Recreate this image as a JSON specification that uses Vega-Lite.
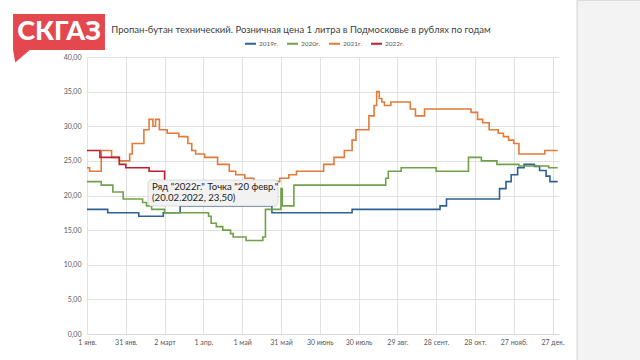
{
  "$schema": "https://vega.github.io/schema/vega-lite/v6.json",
  "autosize": "none",
  "width": 472,
  "height": 277,
  "padding": {"left": 87, "top": 57, "right": 81, "bottom": 26},
  "background": "white",
  "title": {
    "text": "Пропан-бутан технический. Розничная цена 1 литра в Подмосковье в рублях по годам",
    "font": "Lato",
    "fontSize": 9.5,
    "fontWeight": "normal",
    "color": "#404040",
    "anchor": "middle",
    "frame": "group",
    "orient": "top",
    "baseline": "middle",
    "offset": 0,
    "dx": -22,
    "dy": 40
  },
  "config": {
    "view": {"stroke": null},
    "axis": {"labelFont": "Lato", "labelFontSize": 7, "labelColor": "#595959", "grid": true, "gridColor": "#D9D9D9", "gridWidth": 0.8, "domain": false, "ticks": false, "title": null, "labelOverlap": false},
    "legend": {"labelFont": "Lato", "labelFontSize": 6.5, "labelColor": "#595959"}
  },
  "datasets": {
    "one": [{}],
    "prices": [
      {"series": "2019г.", "day": 0, "price": 18.0},
      {"series": "2019г.", "day": 16, "price": 17.5},
      {"series": "2019г.", "day": 40, "price": 17.0},
      {"series": "2019г.", "day": 59, "price": 17.5},
      {"series": "2019г.", "day": 72, "price": 18.5},
      {"series": "2019г.", "day": 143, "price": 17.5},
      {"series": "2019г.", "day": 205, "price": 18.0},
      {"series": "2019г.", "day": 273, "price": 18.5},
      {"series": "2019г.", "day": 278, "price": 19.5},
      {"series": "2019г.", "day": 319, "price": 21.0},
      {"series": "2019г.", "day": 324, "price": 22.0},
      {"series": "2019г.", "day": 328, "price": 23.0},
      {"series": "2019г.", "day": 333, "price": 24.0},
      {"series": "2019г.", "day": 338, "price": 24.5},
      {"series": "2019г.", "day": 346, "price": 24.2},
      {"series": "2019г.", "day": 350, "price": 23.6},
      {"series": "2019г.", "day": 355, "price": 22.8},
      {"series": "2019г.", "day": 358, "price": 22.0},
      {"series": "2019г.", "day": 364, "price": 22.0},

      {"series": "2020г.", "day": 0, "price": 22.0},
      {"series": "2020г.", "day": 11, "price": 21.5},
      {"series": "2020г.", "day": 20, "price": 20.5},
      {"series": "2020г.", "day": 28, "price": 19.5},
      {"series": "2020г.", "day": 43, "price": 19.0},
      {"series": "2020г.", "day": 46, "price": 18.5},
      {"series": "2020г.", "day": 50, "price": 18.0},
      {"series": "2020г.", "day": 60, "price": 17.5},
      {"series": "2020г.", "day": 94, "price": 17.0},
      {"series": "2020г.", "day": 96, "price": 16.0},
      {"series": "2020г.", "day": 100, "price": 15.5},
      {"series": "2020г.", "day": 105, "price": 15.0},
      {"series": "2020г.", "day": 111, "price": 14.5},
      {"series": "2020г.", "day": 113, "price": 14.0},
      {"series": "2020г.", "day": 123, "price": 13.5},
      {"series": "2020г.", "day": 136, "price": 14.0},
      {"series": "2020г.", "day": 138, "price": 18.0},
      {"series": "2020г.", "day": 150, "price": 21.0},
      {"series": "2020г.", "day": 151, "price": 18.5},
      {"series": "2020г.", "day": 160, "price": 21.5},
      {"series": "2020г.", "day": 231, "price": 22.5},
      {"series": "2020г.", "day": 233, "price": 23.5},
      {"series": "2020г.", "day": 243, "price": 24.0},
      {"series": "2020г.", "day": 270, "price": 23.5},
      {"series": "2020г.", "day": 295, "price": 25.5},
      {"series": "2020г.", "day": 305, "price": 25.0},
      {"series": "2020г.", "day": 317, "price": 24.5},
      {"series": "2020г.", "day": 334, "price": 24.25},
      {"series": "2020г.", "day": 357, "price": 24.0},
      {"series": "2020г.", "day": 364, "price": 24.0},

      {"series": "2021г.", "day": 0, "price": 24.0},
      {"series": "2021г.", "day": 2, "price": 23.5},
      {"series": "2021г.", "day": 11, "price": 26.5},
      {"series": "2021г.", "day": 19, "price": 25.5},
      {"series": "2021г.", "day": 25, "price": 25.0},
      {"series": "2021г.", "day": 33, "price": 26.0},
      {"series": "2021г.", "day": 35, "price": 27.5},
      {"series": "2021г.", "day": 44, "price": 29.5},
      {"series": "2021г.", "day": 48, "price": 31.0},
      {"series": "2021г.", "day": 51, "price": 30.0},
      {"series": "2021г.", "day": 53, "price": 31.0},
      {"series": "2021г.", "day": 56, "price": 29.5},
      {"series": "2021г.", "day": 62, "price": 29.0},
      {"series": "2021г.", "day": 71, "price": 28.5},
      {"series": "2021г.", "day": 78, "price": 27.5},
      {"series": "2021г.", "day": 81, "price": 26.5},
      {"series": "2021г.", "day": 84, "price": 26.0},
      {"series": "2021г.", "day": 91, "price": 25.5},
      {"series": "2021г.", "day": 101, "price": 24.5},
      {"series": "2021г.", "day": 110, "price": 23.5},
      {"series": "2021г.", "day": 115, "price": 23.0},
      {"series": "2021г.", "day": 122, "price": 22.5},
      {"series": "2021г.", "day": 129, "price": 22.0},
      {"series": "2021г.", "day": 149, "price": 22.5},
      {"series": "2021г.", "day": 156, "price": 23.0},
      {"series": "2021г.", "day": 162, "price": 23.5},
      {"series": "2021г.", "day": 183, "price": 24.5},
      {"series": "2021г.", "day": 191, "price": 25.5},
      {"series": "2021г.", "day": 199, "price": 26.5},
      {"series": "2021г.", "day": 205, "price": 28.0},
      {"series": "2021г.", "day": 208, "price": 29.5},
      {"series": "2021г.", "day": 218, "price": 31.5},
      {"series": "2021г.", "day": 222, "price": 33.0},
      {"series": "2021г.", "day": 224, "price": 35.0},
      {"series": "2021г.", "day": 226, "price": 34.0},
      {"series": "2021г.", "day": 228, "price": 33.5},
      {"series": "2021г.", "day": 230, "price": 33.0},
      {"series": "2021г.", "day": 235, "price": 33.5},
      {"series": "2021г.", "day": 250, "price": 32.5},
      {"series": "2021г.", "day": 254, "price": 31.5},
      {"series": "2021г.", "day": 261, "price": 32.5},
      {"series": "2021г.", "day": 297, "price": 32.0},
      {"series": "2021г.", "day": 302, "price": 31.0},
      {"series": "2021г.", "day": 306, "price": 30.5},
      {"series": "2021г.", "day": 311, "price": 29.5},
      {"series": "2021г.", "day": 318, "price": 29.0},
      {"series": "2021г.", "day": 322, "price": 28.5},
      {"series": "2021г.", "day": 326, "price": 28.0},
      {"series": "2021г.", "day": 330, "price": 27.5},
      {"series": "2021г.", "day": 334, "price": 26.0},
      {"series": "2021г.", "day": 354, "price": 26.5},
      {"series": "2021г.", "day": 364, "price": 26.5},

      {"series": "2022г.", "day": 0, "price": 26.5},
      {"series": "2022г.", "day": 10, "price": 25.5},
      {"series": "2022г.", "day": 25, "price": 24.5},
      {"series": "2022г.", "day": 30, "price": 24.0},
      {"series": "2022г.", "day": 48, "price": 23.5},
      {"series": "2022г.", "day": 60, "price": 22.0}
    ]
  },
  "layer": [
    {
      "data": {"name": "one"},
      "mark": {"type": "rect", "color": "#F3F3F3", "stroke": "#D0D0D0", "strokeWidth": 1},
      "encoding": {
        "x": {"datum": 379, "type": "quantitative",
          "scale": {"domain": [0, 365], "nice": false, "zero": false},
          "axis": {"values": [0, 30, 60, 90, 120, 150, 180, 210, 240, 270, 300, 330, 360], "labelExpr": "['1 янв.','31 янв.','2 март','1 апр.','1 май','31 май','30 июнь','30 июль','29 авг.','28 сент.','28 окт.','27 нояб.','27 дек.'][datum.value/30]", "domain": true, "domainColor": "#D9D9D9", "labelPadding": 4, "labelFlush": false, "grid": true, "labelOverlap": false}},
        "x2": {"datum": 440},
        "y": {"datum": 48.2, "type": "quantitative",
          "scale": {"domain": [0, 40], "nice": false, "zero": false},
          "axis": {"values": [0, 5, 10, 15, 20, 25, 30, 35, 40], "labelExpr": "replace(format(datum.value, '.2f'), '.', ',')", "labelPadding": 6, "grid": true, "labelOverlap": false}},
        "y2": {"datum": -6}
      }
    },
    {
      "data": {"name": "prices"},
      "mark": {"type": "line", "interpolate": "step-after", "strokeWidth": 1.6},
      "encoding": {
        "x": {"field": "day", "type": "quantitative",
          "scale": {"domain": [0, 365], "nice": false, "zero": false},
          "axis": {"values": [0, 30, 60, 90, 120, 150, 180, 210, 240, 270, 300, 330, 360], "labelExpr": "['1 янв.','31 янв.','2 март','1 апр.','1 май','31 май','30 июнь','30 июль','29 авг.','28 сент.','28 окт.','27 нояб.','27 дек.'][datum.value/30]", "domain": true, "domainColor": "#D9D9D9", "labelPadding": 4, "labelFlush": false, "grid": true, "labelOverlap": false}},
        "y": {"field": "price", "type": "quantitative",
          "scale": {"domain": [0, 40], "nice": false, "zero": false},
          "axis": {"values": [0, 5, 10, 15, 20, 25, 30, 35, 40], "labelExpr": "replace(format(datum.value, '.2f'), '.', ',')", "labelPadding": 6, "grid": true, "labelOverlap": false}},
        "color": {
          "field": "series", "type": "nominal",
          "scale": {"domain": ["2019г.", "2020г.", "2021г.", "2022г."], "range": ["#2F6095", "#6FA04A", "#E07B39", "#BE1E2D"]},
          "legend": {
            "title": null, "orient": "none", "legendX": 157, "legendY": -20,
            "direction": "horizontal", "symbolType": "stroke", "symbolStrokeWidth": 2,
            "symbolSize": 120, "labelOffset": 2, "columnPadding": 5
          }
        }
      }
    },
    {
      "data": {"name": "one"},
      "mark": {"type": "rect", "color": "#E5474F"},
      "encoding": {
        "x": {"datum": -57.2, "type": "quantitative",
          "scale": {"domain": [0, 365], "nice": false, "zero": false},
          "axis": {"values": [0, 30, 60, 90, 120, 150, 180, 210, 240, 270, 300, 330, 360], "labelExpr": "['1 янв.','31 янв.','2 март','1 апр.','1 май','31 май','30 июнь','30 июль','29 авг.','28 сент.','28 окт.','27 нояб.','27 дек.'][datum.value/30]", "domain": true, "domainColor": "#D9D9D9", "labelPadding": 4, "labelFlush": false, "grid": true, "labelOverlap": false}},
        "x2": {"datum": 13.9},
        "y": {"datum": 46.2, "type": "quantitative",
          "scale": {"domain": [0, 40], "nice": false, "zero": false},
          "axis": {"values": [0, 5, 10, 15, 20, 25, 30, 35, 40], "labelExpr": "replace(format(datum.value, '.2f'), '.', ',')", "labelPadding": 6, "grid": true, "labelOverlap": false}},
        "y2": {"datum": 41.0}
      }
    },
    {
      "data": {"name": "one"},
      "mark": {"type": "point", "shape": "M-1,-0.75 L1,-0.75 L-0.75,0.75 Z", "filled": true, "opacity": 1, "color": "#E5474F", "size": 289},
      "encoding": {
        "x": {"datum": -50.6, "type": "quantitative",
          "scale": {"domain": [0, 365], "nice": false, "zero": false},
          "axis": {"values": [0, 30, 60, 90, 120, 150, 180, 210, 240, 270, 300, 330, 360], "labelExpr": "['1 янв.','31 янв.','2 март','1 апр.','1 май','31 май','30 июнь','30 июль','29 авг.','28 сент.','28 окт.','27 нояб.','27 дек.'][datum.value/30]", "domain": true, "domainColor": "#D9D9D9", "labelPadding": 4, "labelFlush": false, "grid": true, "labelOverlap": false}},
        "y": {"datum": 40.14, "type": "quantitative",
          "scale": {"domain": [0, 40], "nice": false, "zero": false},
          "axis": {"values": [0, 5, 10, 15, 20, 25, 30, 35, 40], "labelExpr": "replace(format(datum.value, '.2f'), '.', ',')", "labelPadding": 6, "grid": true, "labelOverlap": false}}
      }
    },
    {
      "data": {"name": "one"},
      "mark": {"type": "text", "text": "СКГАЗ", "font": "Lato", "fontSize": 27, "fontWeight": 900, "color": "white", "align": "center", "baseline": "middle"},
      "encoding": {
        "x": {"datum": -21.6, "type": "quantitative",
          "scale": {"domain": [0, 365], "nice": false, "zero": false},
          "axis": {"values": [0, 30, 60, 90, 120, 150, 180, 210, 240, 270, 300, 330, 360], "labelExpr": "['1 янв.','31 янв.','2 март','1 апр.','1 май','31 май','30 июнь','30 июль','29 авг.','28 сент.','28 окт.','27 нояб.','27 дек.'][datum.value/30]", "domain": true, "domainColor": "#D9D9D9", "labelPadding": 4, "labelFlush": false, "grid": true, "labelOverlap": false}},
        "y": {"datum": 43.6, "type": "quantitative",
          "scale": {"domain": [0, 40], "nice": false, "zero": false},
          "axis": {"values": [0, 5, 10, 15, 20, 25, 30, 35, 40], "labelExpr": "replace(format(datum.value, '.2f'), '.', ',')", "labelPadding": 6, "grid": true, "labelOverlap": false}}
      }
    },
    {
      "data": {"name": "one"},
      "mark": {"type": "rect", "color": "#F2F2F2", "stroke": "#C8C8C8", "strokeWidth": 0.6, "cornerRadius": 3},
      "encoding": {
        "x": {"datum": 47.2, "type": "quantitative",
          "scale": {"domain": [0, 365], "nice": false, "zero": false},
          "axis": {"values": [0, 30, 60, 90, 120, 150, 180, 210, 240, 270, 300, 330, 360], "labelExpr": "['1 янв.','31 янв.','2 март','1 апр.','1 май','31 май','30 июнь','30 июль','29 авг.','28 сент.','28 окт.','27 нояб.','27 дек.'][datum.value/30]", "domain": true, "domainColor": "#D9D9D9", "labelPadding": 4, "labelFlush": false, "grid": true, "labelOverlap": false}},
        "x2": {"datum": 147.7},
        "y": {"datum": 22.24, "type": "quantitative",
          "scale": {"domain": [0, 40], "nice": false, "zero": false},
          "axis": {"values": [0, 5, 10, 15, 20, 25, 30, 35, 40], "labelExpr": "replace(format(datum.value, '.2f'), '.', ',')", "labelPadding": 6, "grid": true, "labelOverlap": false}},
        "y2": {"datum": 18.48}
      }
    },
    {
      "data": {"name": "one"},
      "mark": {"type": "text", "text": ["Ряд \"2022г.\" Точка \"20 февр.\"", "(20.02.2022, 23,50)"], "font": "Lato", "fontSize": 9.6, "color": "#1A1A1A", "align": "left", "baseline": "top", "lineHeight": 11},
      "encoding": {
        "x": {"datum": 50.3, "type": "quantitative",
          "scale": {"domain": [0, 365], "nice": false, "zero": false},
          "axis": {"values": [0, 30, 60, 90, 120, 150, 180, 210, 240, 270, 300, 330, 360], "labelExpr": "['1 янв.','31 янв.','2 март','1 апр.','1 май','31 май','30 июнь','30 июль','29 авг.','28 сент.','28 окт.','27 нояб.','27 дек.'][datum.value/30]", "domain": true, "domainColor": "#D9D9D9", "labelPadding": 4, "labelFlush": false, "grid": true, "labelOverlap": false}},
        "y": {"datum": 22.0, "type": "quantitative",
          "scale": {"domain": [0, 40], "nice": false, "zero": false},
          "axis": {"values": [0, 5, 10, 15, 20, 25, 30, 35, 40], "labelExpr": "replace(format(datum.value, '.2f'), '.', ',')", "labelPadding": 6, "grid": true, "labelOverlap": false}}
      }
    }
  ]
}
